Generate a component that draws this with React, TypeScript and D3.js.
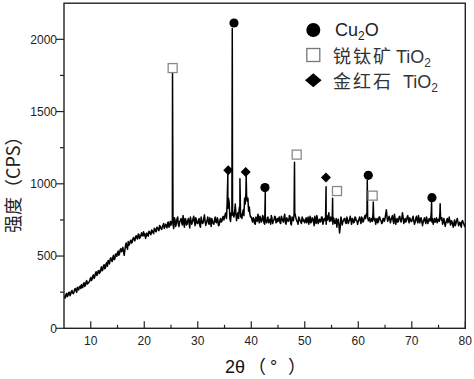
import React from 'react';
import * as d3 from 'd3';

// Baseline intensity readings, 0.25° apart, starting at 2θ = 5°
const row5 = [225, 210, 242, 228, 250, 236, 262, 240, 270, 258, 284, 266, 290, 302, 281, 315, 296, 330, 312, 324];
const row10 = [352, 338, 370, 355, 392, 372, 400, 388, 425, 405, 440, 418, 455, 470, 446, 488, 462, 505, 480, 515];
const row15 = [522, 505, 545, 530, 560, 505, 575, 560, 600, 582, 610, 595, 628, 605, 640, 618, 650, 630, 662, 641];
const row20 = [640, 622, 660, 638, 668, 648, 675, 655, 690, 668, 696, 676, 705, 684, 712, 690, 720, 695, 735, 710];
const row25 = [715, 745, 690, 750, 725, 770, 705, 745, 730, 780, 700, 755, 720, 760, 695, 745, 735, 775, 710, 750];
const row30 = [725, 760, 700, 745, 730, 785, 712, 750, 728, 765, 705, 740, 720, 770, 730, 755, 715, 760, 740, 775];
const row35 = [765, 800, 880, 900, 760, 800, 820, 770, 860, 745, 800, 830, 770, 760, 820, 900, 940, 880, 810, 790];
const row40 = [770, 735, 760, 720, 750, 790, 730, 760, 745, 770, 720, 740, 765, 730, 755, 780, 725, 750, 770, 735];
const row45 = [740, 770, 725, 760, 735, 790, 720, 755, 745, 775, 715, 760, 790, 780, 745, 720, 760, 735, 770, 740];
const row50 = [730, 765, 745, 720, 775, 735, 760, 710, 750, 780, 725, 755, 740, 770, 735, 760, 720, 750, 800, 745];
const row55 = [760, 720, 750, 730, 700, 755, 660, 770, 715, 745, 760, 725, 750, 740, 775, 720, 755, 735, 765, 745];
const row60 = [740, 770, 725, 760, 745, 780, 790, 770, 750, 735, 760, 790, 745, 720, 760, 735, 770, 745, 730, 760];
const row65 = [760, 820, 740, 775, 730, 765, 745, 790, 720, 760, 740, 775, 735, 800, 725, 760, 745, 780, 730, 755];
const row70 = [740, 775, 720, 760, 745, 780, 730, 765, 710, 750, 740, 770, 725, 760, 745, 735, 720, 760, 745, 730];
const row75 = [755, 790, 750, 720, 760, 705, 745, 730, 770, 715, 740, 700, 750, 725, 760, 710, 735, 700, 745, 720];
const row80 = [725];
const baselineRows = [row5, row10, row15, row20, row25, row30, row35, row40, row45, row50, row55, row60, row65, row70, row75, row80];
const baselineStart = 5;

// In-between readings, starting at 2θ = 5.125°
const mid5 = [212, 236, 220, 248, 226, 255, 244, 251, 276, 249, 272, 288, 275, 284, 310, 290, 322, 306, 318, 340];
const mid10 = [330, 362, 345, 380, 366, 396, 380, 410, 398, 432, 412, 447, 430, 460, 478, 470, 490, 475, 512, 498];
const mid15 = [535, 516, 552, 540, 530, 540, 590, 548, 575, 603, 590, 620, 612, 635, 625, 652, 622, 645, 640, 668];
const mid20 = [655, 640, 645, 672, 655, 680, 662, 692, 670, 700, 685, 712, 690, 702, 725, 705, 712, 730, 700, 740];
const mid25 = [735, 720, 765, 705, 760, 720, 740, 760, 715, 735, 760, 715, 745, 730, 770, 720, 760, 740, 765, 725];
const mid30 = [745, 715, 770, 725, 760, 740, 735, 770, 720, 745, 760, 725, 750, 735, 765, 710, 745, 735, 765, 750];
const mid35 = [790, 760, 830, 870, 740, 780, 790, 790, 800, 780, 760, 850, 790, 800, 780, 860, 920, 900, 840, 770];
const mid40 = [750, 765, 725, 770, 740, 760, 775, 735, 780, 730, 755, 730, 770, 745, 720, 760, 745, 775, 730, 760];
const mid45 = [760, 730, 775, 745, 770, 730, 765, 740, 780, 725, 770, 745, 800, 760, 735, 770, 745, 725, 760, 750];
const mid50 = [745, 730, 770, 750, 730, 765, 740, 775, 725, 760, 745, 735, 770, 720, 760, 745, 780, 765, 740, 770];
const mid55 = [740, 765, 725, 760, 745, 720, 700, 750, 740, 760, 730, 770, 725, 755, 745, 760, 730, 770, 745, 720];
const mid60 = [755, 745, 770, 735, 765, 760, 800, 745, 765, 750, 740, 770, 760, 745, 730, 770, 750, 725, 760, 740];
const mid65 = [790, 770, 755, 760, 750, 780, 725, 760, 745, 735, 770, 750, 760, 770, 745, 735, 770, 750, 765, 740];
const mid70 = [760, 745, 735, 775, 730, 755, 760, 740, 735, 765, 725, 750, 740, 745, 790, 760, 740, 735, 765, 750];
const mid75 = [740, 770, 765, 735, 730, 730, 760, 745, 735, 745, 720, 730, 710, 745, 735, 725, 715, 740, 730, 705];
const midRows = [mid5, mid10, mid15, mid20, mid25, mid30, mid35, mid40, mid45, mid50, mid55, mid60, mid65, mid70, mid75];
const midStart = 5.125;
const sampleStep = 0.25;

// Diffraction peak tips [2θ, intensity]
const peakTips: [number, number][] = [
  [25.28, 1775], [35.62, 1070], [36.45, 2075], [37.88, 1035], [39.05, 1060],
  [42.62, 943], [48.08, 1150], [53.98, 979], [55.2, 900], [61.68, 1024],
  [62.8, 874], [73.7, 870], [75.3, 862],
];

// Phase markers [2θ, intensity]
const cu2oMarks: [number, number][] = [[36.77, 2113], [42.56, 974], [61.87, 1059], [73.77, 904]];
const anataseMarks: [number, number][] = [[25.31, 1801], [48.49, 1202], [56.02, 950], [62.69, 918]];
const rutileMarks: [number, number][] = [[35.7, 1093], [38.96, 1082], [53.96, 1043]];

const xTicks = [10, 20, 30, 40, 50, 60, 70, 80];
const xMinorTicks = [15, 25, 35, 45, 55, 65, 75];
const yTicks = [0, 500, 1000, 1500, 2000];
const yMinorTicks = [250, 750, 1250, 1750];

const latin = "'Liberation Sans', Arial, 'Noto Sans CJK SC', sans-serif";
const cjk = "'Noto Sans CJK SC', 'Liberation Sans', sans-serif";

export default function App() {
  const x = d3.scaleLinear().domain([5, 80]).range([64, 465.3]);
  const y = d3.scaleLinear().domain([0, 2250]).range([328.3, 3.2]);

  const basePts: [number, number][] = baselineRows
    .flat()
    .map((v, i) => [baselineStart + i * sampleStep, v] as [number, number]);
  const midPts: [number, number][] = midRows
    .flat()
    .map((v, i) => [midStart + i * sampleStep, v] as [number, number]);
  const pts = basePts.concat(midPts, peakTips).sort((a, b) => a[0] - b[0]);
  const line = d3
    .line<[number, number]>()
    .x((d) => x(d[0]))
    .y((d) => y(d[1]));

  const diamond = (cx: number, cy: number, hw: number, hh: number) =>
    `M${cx},${cy - hh}L${cx + hw},${cy}L${cx},${cy + hh}L${cx - hw},${cy}Z`;

  const [x0, x1] = x.range();
  const [yb, yt] = y.range();

  return (
    <svg
      width={474}
      height={379}
      style={{ position: 'absolute', left: 0, top: 0, background: '#fff' }}
    >
      <defs>
        <clipPath id="plot">
          <rect x={x0} y={yt} width={x1 - x0} height={yb - yt} />
        </clipPath>
      </defs>
      <rect x={0} y={0} width={474} height={379} fill="#fff" />

      <path
        d={line(pts) || ''}
        fill="none"
        stroke="#000"
        strokeWidth={1.5}
        strokeLinejoin="round"
        clipPath="url(#plot)"
      />

      {/* markers */}
      {cu2oMarks.map((m, i) => (
        <circle key={'c' + i} cx={x(m[0])} cy={y(m[1])} r={4.6} fill="#000" />
      ))}
      {anataseMarks.map((m, i) => (
        <rect
          key={'a' + i}
          x={x(m[0]) - 4.5}
          y={y(m[1]) - 4.5}
          width={9}
          height={9}
          fill="#fff"
          stroke="#8a8a8a"
          strokeWidth={1.3}
        />
      ))}
      {rutileMarks.map((m, i) => (
        <path key={'r' + i} d={diamond(x(m[0]), y(m[1]), 5, 5)} fill="#000" />
      ))}

      {/* frame */}
      <rect x={x0} y={yt} width={x1 - x0} height={yb - yt} fill="none" stroke="#222" strokeWidth={1.4} />

      {/* x ticks (inward) */}
      {xTicks.map((t) => (
        <g key={'xt' + t}>
          <line x1={x(t)} x2={x(t)} y1={yb} y2={yb - 7} stroke="#222" strokeWidth={1.2} />
          <text x={x(t)} y={345} fontSize={12} fontFamily={latin} textAnchor="middle" fill="#222">
            {t}
          </text>
        </g>
      ))}
      {xMinorTicks.map((t) => (
        <line key={'xm' + t} x1={x(t)} x2={x(t)} y1={yb} y2={yb - 3.5} stroke="#222" strokeWidth={1.2} />
      ))}

      {/* y ticks (outward) */}
      {yTicks.map((t) => (
        <g key={'yt' + t}>
          <line x1={x0} x2={x0 - 8} y1={y(t)} y2={y(t)} stroke="#222" strokeWidth={1.2} />
          <text x={57} y={y(t) + 4.2} fontSize={12} fontFamily={latin} textAnchor="end" fill="#222">
            {t}
          </text>
        </g>
      ))}
      {yMinorTicks.map((t) => (
        <line key={'ym' + t} x1={x0} x2={x0 - 4} y1={y(t)} y2={y(t)} stroke="#222" strokeWidth={1.2} />
      ))}

      {/* axis titles */}
      <text transform="translate(20,233) rotate(-90)" fontSize={18} fontFamily={cjk} fill="#222">
        强度（CPS）
      </text>
      <text y={373} fontSize={18} fill="#111">
        <tspan x={225} fontFamily={latin}>2θ</tspan>
        <tspan x={248} fontFamily={cjk}>（</tspan>
        <tspan x={270} fontFamily={latin}>°</tspan>
        <tspan x={288} fontFamily={cjk}>）</tspan>
      </text>

      {/* legend */}
      <circle cx={313.3} cy={30} r={7} fill="#000" />
      <rect x={306.8} y={48.5} width={13} height={13} fill="#fff" stroke="#777" strokeWidth={1.3} />
      <path d={diamond(313.3, 80.3, 8.3, 7)} fill="#000" />

      <text x={335} y={36} fontSize={18} fontFamily={latin} fill="#222">
        Cu<tspan fontSize={12} dy={4}>2</tspan>
        <tspan dy={-4}>O</tspan>
      </text>
      <text y={63} fontSize={18} fill="#333">
        <tspan x={333} fontFamily={cjk} letterSpacing={2}>锐钛矿</tspan>
        <tspan x={396} fontFamily={latin}>TiO</tspan>
        <tspan fontFamily={latin} fontSize={12} dy={4}>2</tspan>
      </text>
      <text y={88} fontSize={18} fill="#333">
        <tspan x={333} fontFamily={cjk} letterSpacing={2}>金红石</tspan>
        <tspan x={403} fontFamily={latin}>TiO</tspan>
        <tspan fontFamily={latin} fontSize={12} dy={4}>2</tspan>
      </text>
    </svg>
  );
}
